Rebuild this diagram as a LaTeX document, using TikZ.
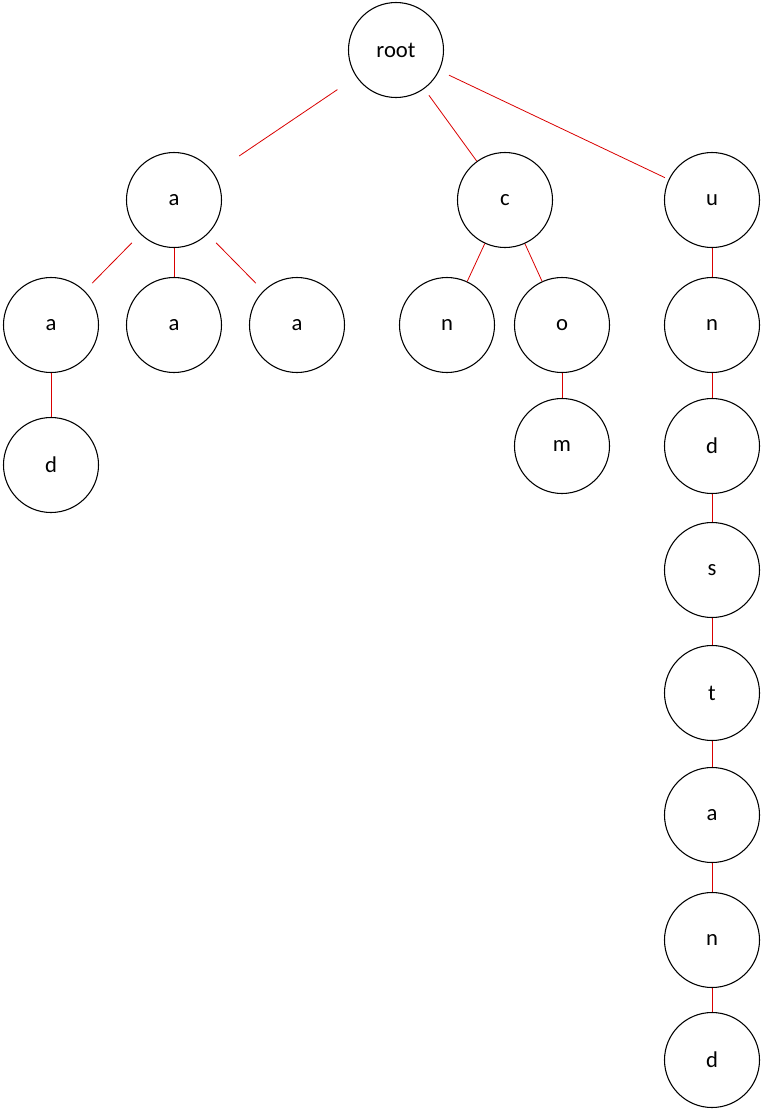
\documentclass[tikz,border=0pt]{standalone}
\usepackage{fontspec}
\setmainfont{Carlito}
\begin{document}
\begin{tikzpicture}[x=0.75pt,y=-0.75pt,
  nd/.style={circle,draw,line width=0.8pt,minimum size=71.25pt,inner sep=0pt,font=\fontsize{17}{20}\selectfont},
  ed/.style={red!85!black,line width=0.6pt}]
\useasboundingbox (0,0) rectangle (765,1115);
\node[nd] (root) at (396,50) {root};
\node[nd] (a) at (174,200) {a};
\node[nd] (c) at (505,200) {c};
\node[nd] (u) at (712,200) {u};
\node[nd] (a1) at (51,325) {a};
\node[nd] (a2) at (174,325) {a};
\node[nd] (a3) at (297,325) {a};
\node[nd] (n1) at (447,325) {n};
\node[nd] (o) at (562,325) {o};
\node[nd] (d1) at (51,465) {d};
\node[nd] (m) at (562,446) {m};
\node[nd] (u1) at (712,325) {n};
\node[nd] (u2) at (712,446) {d};
\node[nd] (u3) at (712,570) {s};
\node[nd] (u4) at (712,693) {t};
\node[nd] (u5) at (712,815) {a};
\node[nd] (u6) at (712,940) {n};
\node[nd] (u7) at (712,1060) {d};
\draw[ed,shorten <=17pt,shorten >=23pt] (root) -- (a);
\draw[ed,shorten <=6pt] (root) -- (c);
\draw[ed,shorten <=8pt,shorten >=3pt] (root) -- (u);
\draw[ed,shorten <=9pt,shorten >=8pt] (a) -- (a1);
\draw[ed] (a) -- (a2);
\draw[ed,shorten <=9pt,shorten >=8pt] (a) -- (a3);
\draw[ed] (c) -- (n1);
\draw[ed] (c) -- (o);
\draw[ed] (a1) -- (d1);
\draw[ed] (o) -- (m);
\draw[ed] (u) -- (u1);
\draw[ed] (u1) -- (u2);
\draw[ed] (u2) -- (u3);
\draw[ed] (u3) -- (u4);
\draw[ed] (u4) -- (u5);
\draw[ed] (u5) -- (u6);
\draw[ed] (u6) -- (u7);
\end{tikzpicture}
\end{document}
